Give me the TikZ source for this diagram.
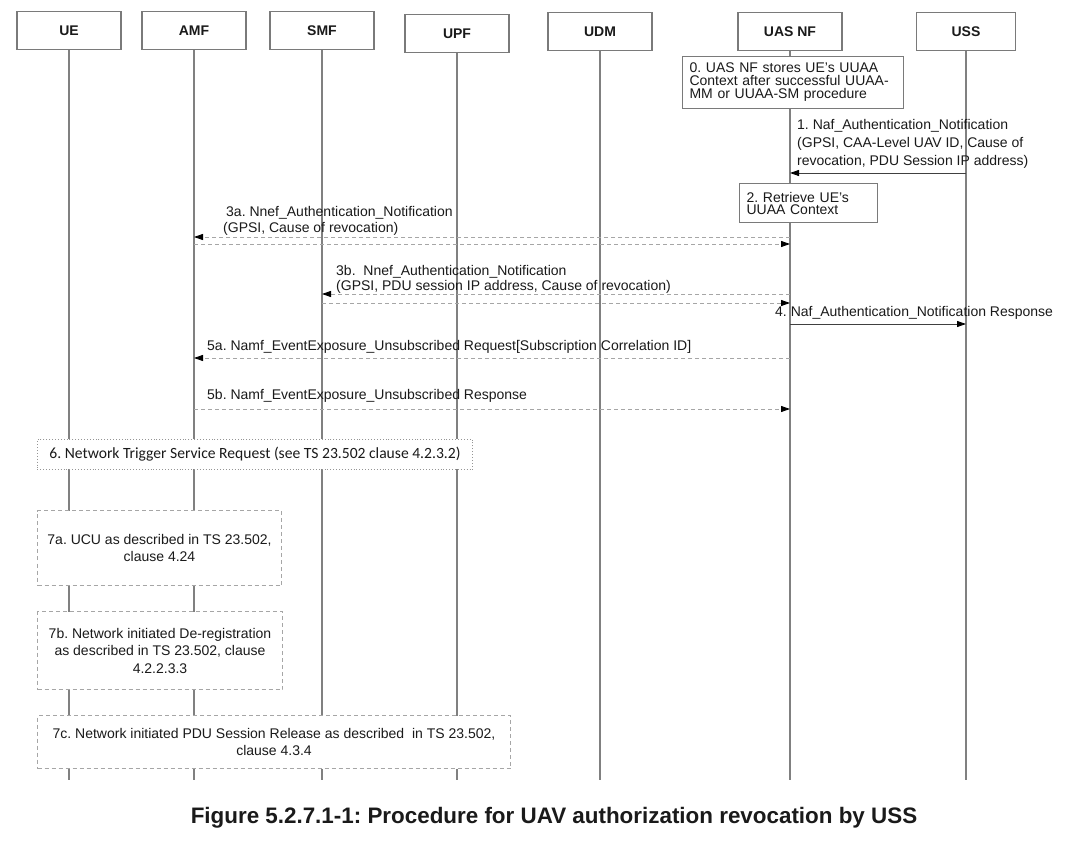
\documentclass[tikz,border=0pt]{standalone}
\usepackage{fontspec}
\setmainfont{Liberation Sans}
\newfontfamily\calfont{Carlito}
\usetikzlibrary{arrows.meta}
\definecolor{boxgray}{HTML}{7A7A7A}
\definecolor{lifegray}{HTML}{808080}
\definecolor{dashgray}{HTML}{A6A6A6}
\definecolor{txt}{HTML}{1A1A1A}
\begin{document}
\frenchspacing
\begin{tikzpicture}[x=1pt,y=-1pt,
  every node/.style={text=txt},
  actor/.style={draw=boxgray,line width=1.1pt,fill=white,minimum width=104pt,minimum height=38pt,inner sep=0pt,font=\bfseries\fontsize{14}{16}\selectfont},
  life/.style={draw=lifegray,line width=1.2pt},
  tip/.style={-{Triangle[length=9pt,width=6pt,color=black]}},
  solidmsg/.style={tip,draw=black!75,line width=0.9pt},
  dashmsg/.style={tip,draw=dashgray,line width=0.9pt,dash pattern=on 4pt off 3pt},
  lbl/.style={font=\fontsize{14}{16}\selectfont,inner sep=0pt,anchor=west},
  mlbl/.style={inner sep=0pt,anchor=north west,align=left},
  notebox/.style={draw=boxgray,line width=1.1pt,fill=white,inner xsep=7pt,inner ysep=0pt,align=left,anchor=north west},
  procbox/.style={draw=dashgray,line width=1pt,dash pattern=on 4pt off 3pt,fill=white,inner sep=0pt,align=center,anchor=north west},
]
\useasboundingbox (0,0) rectangle (1080,842);
\fill[white] (0,0) rectangle (1080,842);

% actors
\node[actor] (ue)  at (69,30.5)  {UE};
\node[actor] (amf) at (194,30.5) {AMF};
\node[actor] (smf) at (322,30.5) {SMF};
\node[actor] (upf) at (457,33.5) {UPF};
\node[actor] (udm) at (600,31.5) {UDM};
\node[actor] (uas) at (790,31.5) {UAS NF};
\node[actor,minimum width=99pt] (uss) at (966,31.5) {USS};

% lifeline ends
\coordinate (ueE)  at (69,780);
\coordinate (amfE) at (194,780);
\coordinate (smfE) at (322,780);
\coordinate (upfE) at (457,780);
\coordinate (udmE) at (600,780);
\coordinate (uasE) at (790,780);
\coordinate (ussE) at (966,780);
\draw[life] (ue.south) -- (ueE);
\draw[life] (amf.south) -- (amfE);
\draw[life] (smf.south) -- (smfE);
\draw[life] (upf.south) -- (upfE);
\draw[life] (udm.south) -- (udmE);
\draw[life] (uas.south) -- (uasE);
\draw[life] (uss.south) -- (ussE);

% step boxes
\node[notebox,text width=207pt,minimum height=52pt,font=\fontsize{14}{13}\selectfont] (s0) at (682,56)
  {0. UAS NF stores UE's UUAA\\Context after successful UUAA-\\MM or UUAA-SM procedure};
\node[notebox,text width=124pt,minimum height=39pt,font=\fontsize{14}{12}\selectfont] (s2) at (739,183)
  {2. Retrieve UE's\\UUAA Context};
\node[draw=boxgray!80,dotted,line width=0.9pt,fill=white,minimum width=435pt,minimum height=30pt,
  anchor=north west,inner sep=0pt,font=\calfont\fontsize{15.6}{18}\selectfont] (s6) at (37,439)
  {6. Network Trigger Service Request (see TS 23.502 clause 4.2.3.2)};
\node[procbox,minimum width=244pt,minimum height=75pt,font=\fontsize{14}{17}\selectfont] (s7a) at (37,510)
  {7a. UCU as described in TS 23.502,\\clause 4.24};
\node[procbox,minimum width=245pt,minimum height=78pt,font=\fontsize{14}{17.5}\selectfont] (s7b) at (37,611)
  {7b. Network initiated De-registration\\as described in TS 23.502, clause\\4.2.2.3.3};
\node[procbox,minimum width=473pt,minimum height=53pt,font=\fontsize{14}{17}\selectfont] (s7c) at (37,715)
  {7c. Network initiated PDU Session Release as described~ in TS 23.502,\\clause 4.3.4};

% message end points
\coordinate (m1s) at (966,173); \coordinate (m1e) at (790,173);
\coordinate (m3as) at (790,237); \coordinate (m3ae) at (194,237);
\coordinate (m3rs) at (194,244); \coordinate (m3re) at (790,244);
\coordinate (m3bs) at (790,294); \coordinate (m3be) at (322,294);
\coordinate (m3cs) at (322,303); \coordinate (m3ce) at (790,303);
\coordinate (m4s) at (790,324); \coordinate (m4e) at (966,324);
\coordinate (m5as) at (790,358); \coordinate (m5ae) at (194,358);
\coordinate (m5bs) at (194,409); \coordinate (m5be) at (790,409);

\draw[solidmsg] (m1s) -- (m1e);
\draw[dashmsg] (m3as) -- (m3ae);
\draw[dashmsg] (m3rs) -- (m3re);
\draw[dashmsg] (m3bs) -- (m3be);
\draw[dashmsg] (m3cs) -- (m3ce);
\draw[solidmsg] (m4s) -- (m4e);
\draw[dashmsg] (m5as) -- (m5ae);
\draw[dashmsg] (m5bs) -- (m5be);

% labels
\node[mlbl,font=\fontsize{14}{18}\selectfont] (l1) at (797,119.5)
  {1. Naf\_Authentication\_Notification\\(GPSI, CAA-Level UAV ID, Cause of\\revocation, PDU Session IP address)};
\node[mlbl,font=\fontsize{14}{16}\selectfont] (l3a) at (223,206.5)
  {\kern3pt 3a. Nnef\_Authentication\_Notification\\(GPSI, Cause of revocation)};
\node[mlbl,font=\fontsize{14}{15}\selectfont] (l3b) at (336,265.5)
  {3b.\ \ Nnef\_Authentication\_Notification\\(GPSI, PDU session IP address, Cause of revocation)};
\node[lbl] (l4) at (775,313) {4. Naf\_Authentication\_Notification Response};
\node[lbl] (l5a) at (207,347) {5a. Namf\_EventExposure\_Unsubscribed Request[Subscription Correlation ID]};
\node[lbl] (l5b) at (207,396) {5b. Namf\_EventExposure\_Unsubscribed Response};

% caption
\node[font=\bfseries\fontsize{22.4}{26}\selectfont] (cap) at (554,818)
  {Figure 5.2.7.1-1: Procedure for UAV authorization revocation by USS};
\end{tikzpicture}
\end{document}
